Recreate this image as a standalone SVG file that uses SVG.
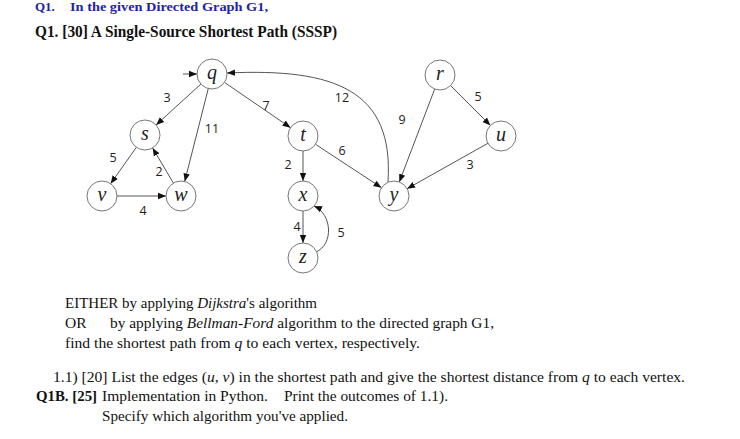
<svg xmlns="http://www.w3.org/2000/svg" width="740" height="439" viewBox="0 0 740 439">
<defs>
<marker id="ah" viewBox="0 0 10 10" refX="10" refY="5" markerWidth="8" markerHeight="8" markerUnits="userSpaceOnUse" orient="auto">
<path d="M0,1 L10,5 L0,9 z" fill="#111"/>
</marker>
<style>
.node circle{fill:#fff;stroke:#777;stroke-width:1}
.node text{font-family:"Liberation Serif",serif;font-style:italic;font-size:20px;fill:#222;text-anchor:middle}
.edge{fill:none;stroke:#555;stroke-width:1;marker-end:url(#ah)}
.w{font-family:"Open Sans","Liberation Sans",sans-serif;font-size:12.5px;fill:#222;text-anchor:middle}
.body{font-family:"Liberation Serif",serif;font-size:15.5px;fill:#111}
.b{font-weight:bold}
.i{font-style:italic}
</style>
</defs>
<rect width="740" height="439" fill="#fff"/>

<text x="35" y="11" class="body b" style="fill:#2323a8;font-size:13px">Q1.</text>
<text x="70" y="11" class="body b" style="fill:#2323a8;font-size:13px" textLength="198" lengthAdjust="spacingAndGlyphs">In the given Directed Graph G1,</text>

<text x="35" y="37" class="body b" style="font-size:16.5px" textLength="302" lengthAdjust="spacingAndGlyphs">Q1. [30] A Single-Source Shortest Path (SSSP)</text>

<g id="connectors">
<path class="edge" d="M183,74 L197,74"/>
<path class="edge" d="M200.9,84.1 L156.1,124.9"/>
<path class="edge" d="M208.3,88.5 L184.7,181.5"/>
<path class="edge" d="M224.5,82.4 L290.6,127.7"/>
<path class="edge" d="M136.4,147.3 L110.6,183.7"/>
<path class="edge" d="M173.4,183.1 L152.6,147.9"/>
<path class="edge" d="M117,196 L166,196"/>
<path class="edge" d="M303,151 L303,181"/>
<path class="edge" d="M315.5,144.3 L381.5,187.7"/>
<path class="edge" d="M303,211 L303,243"/>
<path class="edge" d="M434.7,89 L399.3,182"/>
<path class="edge" d="M450.6,85.6 L490.4,125.4"/>
<path class="edge" d="M487.9,143.3 L407.1,188.7"/>
<path class="edge" d="M388,182 C394,90 335,68 227,73"/>
<path class="edge" d="M316,252 C334,244 332,214 314,206"/>
<text class="w" x="167" y="102">3</text>
<text class="w" x="212" y="133">11</text>
<text class="w" x="266" y="110">7</text>
<text class="w" x="342" y="102">12</text>
<text class="w" x="113" y="162">5</text>
<text class="w" x="159" y="176">2</text>
<text class="w" x="143" y="215">4</text>
<text class="w" x="288" y="169">2</text>
<text class="w" x="342" y="155">6</text>
<text class="w" x="402" y="124">9</text>
<text class="w" x="478" y="101">5</text>
<text class="w" x="470" y="169">3</text>
<text class="w" x="297" y="231">4</text>
<text class="w" x="341" y="237">5</text>
</g>

<g id="node-q" class="node"><circle cx="212" cy="74" r="15"/><text x="212" y="79">q</text></g>
<g id="node-s" class="node"><circle cx="145" cy="135" r="15"/><text x="145" y="140">s</text></g>
<g id="node-v" class="node"><circle cx="102" cy="196" r="15"/><text x="102" y="201">v</text></g>
<g id="node-w" class="node"><circle cx="181" cy="196" r="15"/><text x="181" y="201">w</text></g>
<g id="node-t" class="node"><circle cx="303" cy="136" r="15"/><text x="303" y="141">t</text></g>
<g id="node-x" class="node"><circle cx="303" cy="196" r="15"/><text x="303" y="201">x</text></g>
<g id="node-z" class="node"><circle cx="303" cy="258" r="15"/><text x="303" y="263">z</text></g>
<g id="node-y" class="node"><circle cx="394" cy="196" r="15"/><text x="394" y="201">y</text></g>
<g id="node-r" class="node"><circle cx="440" cy="75" r="15"/><text x="440" y="80">r</text></g>
<g id="node-u" class="node"><circle cx="501" cy="136" r="15"/><text x="501" y="141">u</text></g>

<text x="65" y="308" class="body" textLength="252" lengthAdjust="spacingAndGlyphs">EITHER by applying <tspan class="i">Dijkstra</tspan>'s algorithm</text>
<text x="65" y="328" class="body">OR</text>
<text x="110" y="328" class="body" textLength="384" lengthAdjust="spacingAndGlyphs">by applying <tspan class="i">Bellman-Ford</tspan> algorithm to the directed graph G1,</text>
<text x="65" y="348" class="body" textLength="355" lengthAdjust="spacingAndGlyphs">find the shortest path from <tspan class="i">q</tspan> to each vertex, respectively.</text>
<text x="53" y="382" class="body" textLength="632" lengthAdjust="spacingAndGlyphs">1.1) [20] List the edges (<tspan class="i">u</tspan>, <tspan class="i">v</tspan>) in the shortest path and give the shortest distance from <tspan class="i">q</tspan> to each vertex.</text>
<text x="36" y="401" class="body b" textLength="61" lengthAdjust="spacingAndGlyphs">Q1B. [25]</text>
<text x="102" y="401" class="body" textLength="166" lengthAdjust="spacingAndGlyphs">Implementation in Python.</text>
<text x="284" y="401" class="body" textLength="164" lengthAdjust="spacingAndGlyphs">Print the outcomes of 1.1).</text>
<text x="102" y="421" class="body" textLength="246" lengthAdjust="spacingAndGlyphs">Specify which algorithm you've applied.</text>
</svg>
